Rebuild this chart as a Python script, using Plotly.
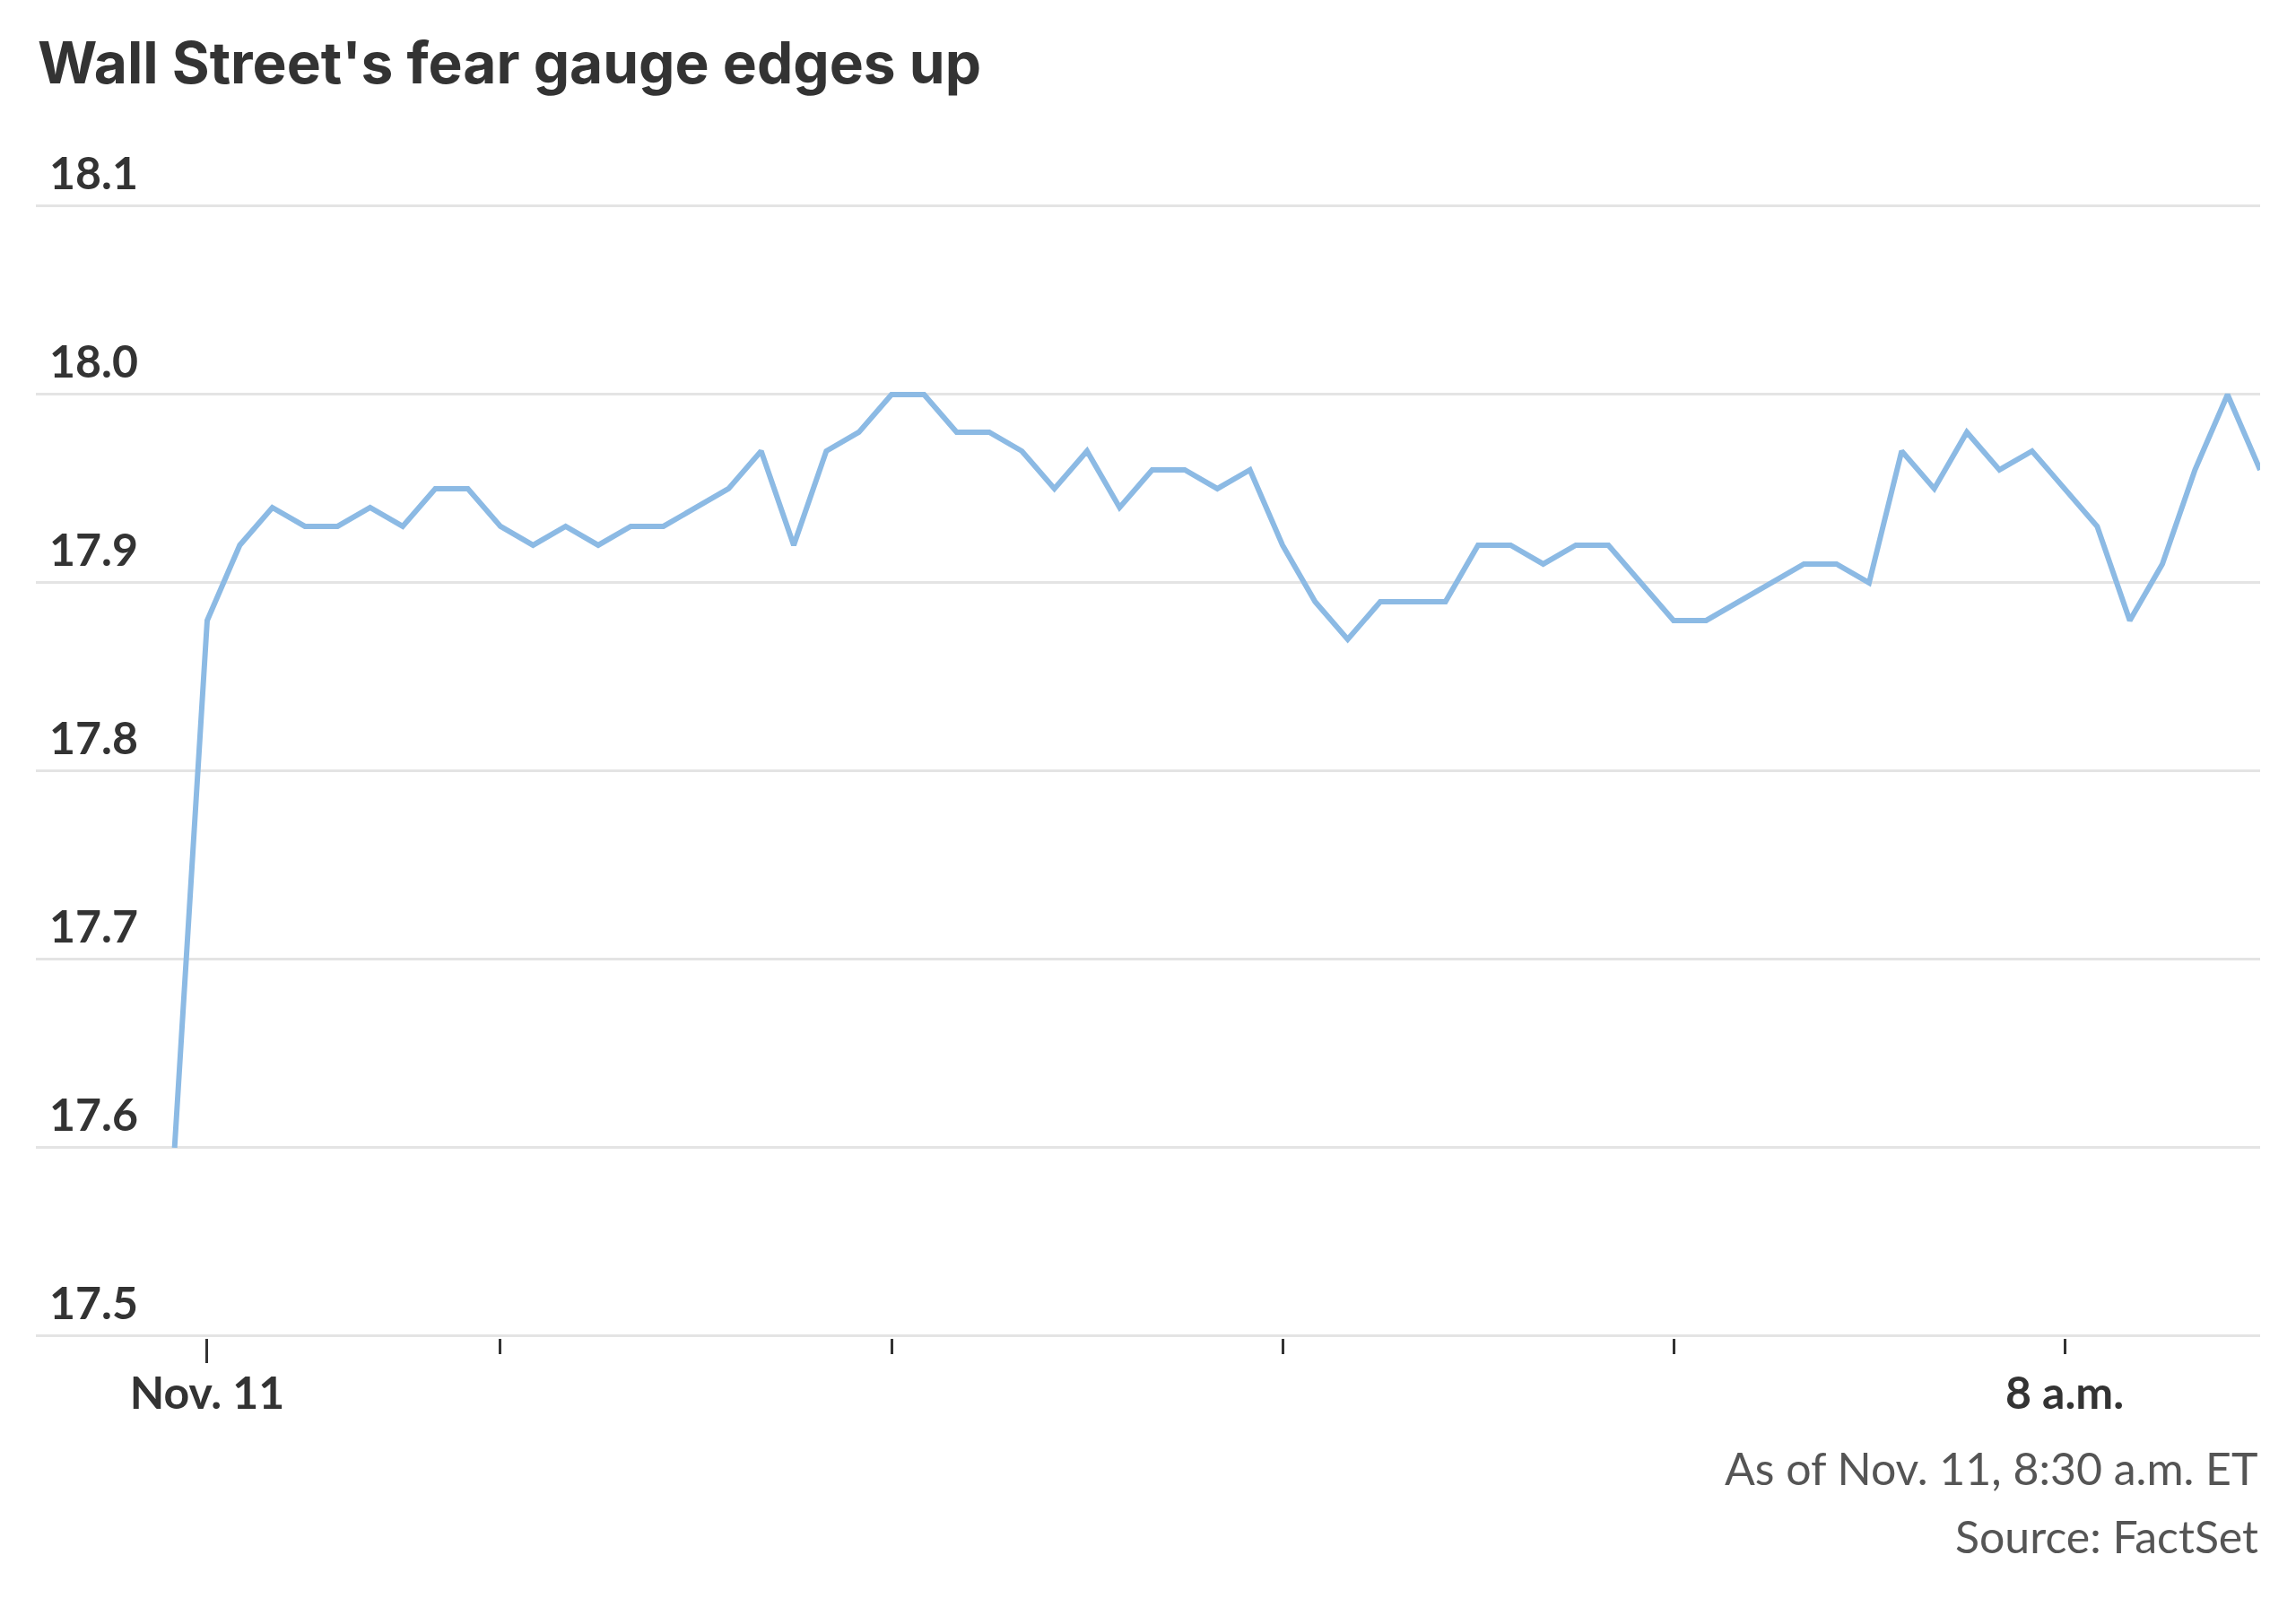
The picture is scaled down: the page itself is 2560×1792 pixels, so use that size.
import pandas as pd
import plotly.graph_objects as go

# VIX, 5-minute readings, Nov. 11 (first point = prior close)
times = pd.date_range("2025-11-11 03:10", "2025-11-11 08:30", freq="5min")
vix = [
    17.60, 17.88, 17.92, 17.94, 17.93, 17.93, 17.94, 17.93, 17.95, 17.95,
    17.93, 17.92, 17.93, 17.92, 17.93, 17.93, 17.94, 17.95, 17.97, 17.92,
    17.97, 17.98, 18.00, 18.00, 17.98, 17.98, 17.97, 17.95, 17.97, 17.94,
    17.96, 17.96, 17.95, 17.96, 17.92, 17.89, 17.87, 17.89, 17.89, 17.89,
    17.92, 17.92, 17.91, 17.92, 17.92, 17.90, 17.88, 17.88, 17.89, 17.90,
    17.91, 17.91, 17.90, 17.97, 17.95, 17.98, 17.96, 17.97, 17.95, 17.93,
    17.88, 17.91, 17.96, 18.00, 17.96,
]

y_ticks = [17.5, 17.6, 17.7, 17.8, 17.9, 18.0, 18.1]
y_labels = ["17.5", "17.6", "17.7", "17.8", "17.9", "18.0", "18.1"]
hour_ticks = ["2025-11-11 04:00", "2025-11-11 05:00", "2025-11-11 06:00",
              "2025-11-11 07:00", "2025-11-11 08:00"]
hour_labels = ["", "", "", "", "8 a.m."]
day_tick = ["2025-11-11 03:15"]
day_label = ["Nov. 11"]

x_range = ["2025-11-11 02:48:43", "2025-11-11 08:30"]
# a hair below 17.5 so the bottom gridline is still drawn
y_range = [17.499, 18.15]

INK = "#333333"
GRID = "#e4e4e4"
FONT = "Lato"

fig = go.Figure()
fig.add_trace(go.Scatter(
    x=times, y=vix, mode="lines",
    line=dict(color="#8cbae4", width=6),
    showlegend=False, hoverinfo="skip",
))
# invisible copy so the overlaying day axis gets drawn
fig.add_trace(go.Scatter(
    x=times, y=vix, mode="lines", xaxis="x2", opacity=0,
    showlegend=False, hoverinfo="skip",
))

tick_font = dict(family=FONT, size=50, color=INK, weight=700)

fig.update_layout(
    width=2560, height=1792,
    margin=dict(l=40, r=40, t=125, b=300),
    paper_bgcolor="white", plot_bgcolor="white",
    xaxis=dict(
        range=x_range, showgrid=False, zeroline=False, showline=False,
        tickmode="array", tickvals=hour_ticks, ticktext=hour_labels,
        ticks="outside", ticklen=17, tickwidth=3, tickcolor=INK,
        tickfont=tick_font, ticklabelstandoff=1,
    ),
    xaxis2=dict(
        range=x_range, overlaying="x", anchor="y", side="bottom",
        showgrid=False, zeroline=False, showline=False,
        tickmode="array", tickvals=day_tick, ticktext=day_label,
        ticks="outside", ticklen=27, tickwidth=3, tickcolor=INK,
        tickfont=tick_font, ticklabelstandoff=-9,
    ),
    yaxis=dict(
        range=y_range, showgrid=True, gridcolor=GRID, gridwidth=3,
        zeroline=False, showline=False, ticks="",
        tickmode="array", tickvals=y_ticks, ticktext=y_labels,
        ticklabelposition="inside top", ticklabelstandoff=12,
        ticklabelshift=-1, tickfont=tick_font,
    ),
)

fig.add_annotation(
    text="Wall Street's fear gauge edges up",
    xref="paper", yref="paper", x=0.0, y=1, yshift=15,
    xanchor="left", yanchor="bottom", showarrow=False,
    font=dict(family="Inter", size=64, color=INK, weight=700),
)
fig.add_annotation(
    text="As of Nov. 11, 8:30 a.m. ET",
    xref="paper", yref="paper", x=1, y=0, yshift=-113,
    xanchor="right", yanchor="top", showarrow=False,
    font=dict(family=FONT, size=50, color="#555555"),
)
fig.add_annotation(
    text="Source: FactSet",
    xref="paper", yref="paper", x=1, y=0, yshift=-189,
    xanchor="right", yanchor="top", showarrow=False,
    font=dict(family=FONT, size=50, color="#555555"),
)

fig.write_html(
    "out.html",
    config={"displayModeBar": False},
    post_script="document.body.style.margin='0';",
)
